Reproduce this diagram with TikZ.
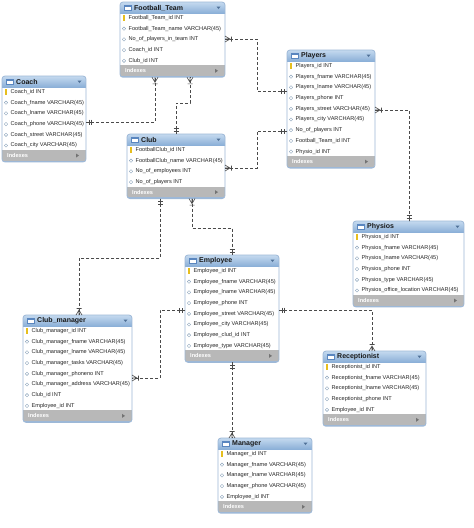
\documentclass[tikz,border=0pt]{standalone}
\usepackage{fontspec}
\setmainfont{Liberation Sans}
\definecolor{ttltop}{HTML}{C5DAEF}
\definecolor{ttlbot}{HTML}{8CB0D8}
\definecolor{tbline}{HTML}{9DB8D7}
\definecolor{idxgray}{HTML}{B8B8B8}
\definecolor{connc}{HTML}{4A4A4A}
\definecolor{keyyel}{HTML}{E6BE1E}
\definecolor{diamc}{HTML}{8FA6BE}
\definecolor{iconblue}{HTML}{5A86BF}
\definecolor{ttlarrow}{HTML}{4E6F96}
\tikzset{
  rowtext/.style={font=\fontsize{5.6}{6}\selectfont, text=black!85, inner sep=0pt, anchor=west},
  ttltext/.style={font=\bfseries\fontsize{7}{8}\selectfont, text=black!90, inner sep=0pt, anchor=west},
  idxtext/.style={font=\bfseries\fontsize{5.6}{6}\selectfont, text=white, inner sep=0pt, anchor=west},
  conn/.style={draw=connc, line width=0.6pt, dash pattern=on 3pt off 2pt},
  mk/.style={draw=connc, line width=0.6pt},
}
% name, left, top, right, nrows, title, rows
\newcommand{\ertable}[7]{%
  \pgfmathsetmacro{\tbH}{32.5+(#5-1)*10.7}%
  \pgfmathsetmacro{\tbW}{#4-#2}%
  \pgfmathsetmacro{\tbB}{#3+\tbH}%
  \pgfmathsetmacro{\tbI}{\tbB-6.5}%
  \begin{scope}
    \clip[rounded corners=3pt] (#2,#3) rectangle (#4,\tbB);
    \fill[white] (#2,#3) rectangle (#4,\tbB);
    \shade[top color=ttltop, bottom color=ttlbot] (#2,#3) rectangle (#4,#3+11);
    \fill[idxgray] (#2,\tbB-12) rectangle (#4,\tbB-1.5);
    \fill[tbline] (#2,\tbB-1.5) rectangle (#4,\tbB);
  \end{scope}
  \draw[tbline, line width=0.8pt, rounded corners=3pt] (#2,#3) rectangle (#4,\tbB);
  \node[inner sep=0pt, outer sep=0pt, minimum width=\tbW pt, minimum height=\tbH pt, anchor=north west] (#1) at (#2,#3) {};
  \fill[iconblue] (#2+4,#3+3) rectangle (#2+11.5,#3+8.8);
  \fill[white] (#2+4.8,#3+4.6) rectangle (#2+10.7,#3+8.0);
  \node[ttltext] at (#2+14,#3+6) {#6};
  \fill[ttlarrow] (#4-8.5,#3+4.5) -- (#4-4.5,#3+4.5) -- (#4-6.5,#3+7) -- cycle;
  \foreach \r [count=\i] in {#7} {%
    \pgfmathsetmacro{\ry}{#3+16+(\i-1)*10.7}%
    \ifnum\i=1\relax
      \fill[keyyel] (#2+3.2,\ry-2.6) rectangle (#2+4.8,\ry+2.6);
    \else
      \draw[diamc, line width=0.4pt] (#2+4,\ry-1.7) -- (#2+5.7,\ry) -- (#2+4,\ry+1.7) -- (#2+2.3,\ry) -- cycle;
    \fi
    \node[rowtext] at (#2+8.5,\ry) {\r};
  }
  \node[idxtext] at (#2+5,\tbI) {Indexes};
  \fill[black!55] (#4-10,\tbI-2) -- (#4-7,\tbI) -- (#4-10,\tbI+2) -- cycle;
}
\newcommand{\onemk}[2]{\begin{scope}[shift={#1}, rotate=#2]
  \draw[mk] (3,-2.5) -- (3,2.5) (5.5,-2.5) -- (5.5,2.5);
  \draw[mk] (0,0) -- (6,0);
\end{scope}}
\newcommand{\manymk}[2]{\begin{scope}[shift={#1}, rotate=#2]
  \draw[mk] (0,-3) -- (5,0) -- (0,3) (0,0) -- (5,0) (6.5,-2.5) -- (6.5,2.5);
\end{scope}}
\begin{document}
\begin{tikzpicture}[x=1pt,y=-1pt]
\useasboundingbox (0,0) rectangle (474,528);
\fill[white] (0,0) rectangle (474,528);

\ertable{ft}{120}{2}{225}{5}{Football\_Team}{Football\_Team\_id INT,Football\_Team\_name VARCHAR(45),No\_of\_players\_in\_team INT,Coach\_id INT,Club\_id INT}
\ertable{coach}{2}{76}{86}{6}{Coach}{Coach\_id INT,Coach\_fname VARCHAR(45),Coach\_lname VARCHAR(45),Coach\_phone VARCHAR(45),Coach\_street VARCHAR(45),Coach\_city VARCHAR(45)}
\ertable{players}{287}{50}{375}{9}{Players}{Players\_id INT,Players\_fname VARCHAR(45),Players\_lname VARCHAR(45),Players\_phone INT,Players\_street VARCHAR(45),Players\_city VARCHAR(45),No\_of\_players INT,Football\_Team\_id INT,Physio\_id INT}
\ertable{club}{127}{134}{225}{4}{Club}{FootballClub\_id INT,FootballClub\_name VARCHAR(45),No\_of\_employees INT,No\_of\_players INT}
\ertable{physios}{353}{221}{464}{6}{Physios}{Physios\_id INT,Physios\_fname VARCHAR(45),Physios\_lname VARCHAR(45),Physios\_phone INT,Physios\_type VARCHAR(45),Physios\_office\_location VARCHAR(45)}
\ertable{emp}{185}{255}{279}{8}{Employee}{Employee\_id INT,Employee\_fname VARCHAR(45),Employee\_lname VARCHAR(45),Employee\_phone INT,Employee\_street VARCHAR(45),Employee\_city VARCHAR(45),Employee\_clud\_id INT,Employee\_type VARCHAR(45)}
\ertable{cm}{23}{315}{132}{8}{Club\_manager}{Club\_manager\_id INT,Club\_manager\_fname VARCHAR(45),Club\_manager\_lname VARCHAR(45),Club\_manager\_tasks VARCHAR(45),Club\_manager\_phoneno INT,Club\_manager\_address VARCHAR(45),Club\_id INT,Employee\_id INT}
\ertable{rec}{323}{351}{426}{5}{Receptionist}{Receptionist\_id INT,Receptionist\_fname VARCHAR(45),Receptionist\_lname VARCHAR(45),Receptionist\_phone INT,Employee\_id INT}
\ertable{mgr}{218}{438}{312}{5}{Manager}{Manager\_id INT,Manager\_fname VARCHAR(45),Manager\_lname VARCHAR(45),Manager\_phone VARCHAR(45),Employee\_id INT}

% Football_Team -- Players
\draw[conn] (ft.east |- 0,39) -- (257,39) -- (257,91) -- (players.west |- 0,91);
\manymk{(ft.east |- 0,39)}{0}
\onemk{(players.west |- 0,91)}{180}
% Club -- Players
\draw[conn] (club.east |- 0,168) -- (257,168) -- (257,131) -- (players.west |- 0,131);
\manymk{(club.east |- 0,168)}{0}
\onemk{(players.west |- 0,131)}{180}
% Coach -- Football_Team
\draw[conn] (coach.east |- 0,122) -- (155,122) -- (ft.south -| 155,0);
\onemk{(coach.east |- 0,122)}{0}
\manymk{(ft.south -| 155,0)}{-90}
% Club -- Football_Team
\draw[conn] (club.north -| 176,0) -- (176,103) -- (190,103) -- (ft.south -| 190,0);
\onemk{(club.north -| 176,0)}{90}
\manymk{(ft.south -| 190,0)}{-90}
% Players -- Physios
\draw[conn] (players.east |- 0,110) -- (409,110) -- (physios.north -| 409,0);
\manymk{(players.east |- 0,110)}{0}
\onemk{(physios.north -| 409,0)}{90}
% Club -- Club_manager
\draw[conn] (club.south -| 160,0) -- (160,258) -- (79,258) -- (cm.north -| 79,0);
\onemk{(club.south -| 160,0)}{-90}
\manymk{(cm.north -| 79,0)}{90}
% Club -- Employee
\draw[conn] (club.south -| 192,0) -- (192,228) -- (232,228) -- (emp.north -| 232,0);
\manymk{(club.south -| 192,0)}{-90}
\onemk{(emp.north -| 232,0)}{90}
% Employee -- Club_manager
\draw[conn] (emp.west |- 0,310) -- (160,310) -- (160,378) -- (cm.east |- 0,378);
\onemk{(emp.west |- 0,310)}{180}
\manymk{(cm.east |- 0,378)}{0}
% Employee -- Receptionist
\draw[conn] (emp.east |- 0,310) -- (372,310) -- (rec.north -| 372,0);
\onemk{(emp.east |- 0,310)}{0}
\manymk{(rec.north -| 372,0)}{90}
% Employee -- Manager
\draw[conn] (emp.south -| 232,0) -- (mgr.north -| 232,0);
\onemk{(emp.south -| 232,0)}{-90}
\manymk{(mgr.north -| 232,0)}{90}
\end{tikzpicture}
\end{document}
